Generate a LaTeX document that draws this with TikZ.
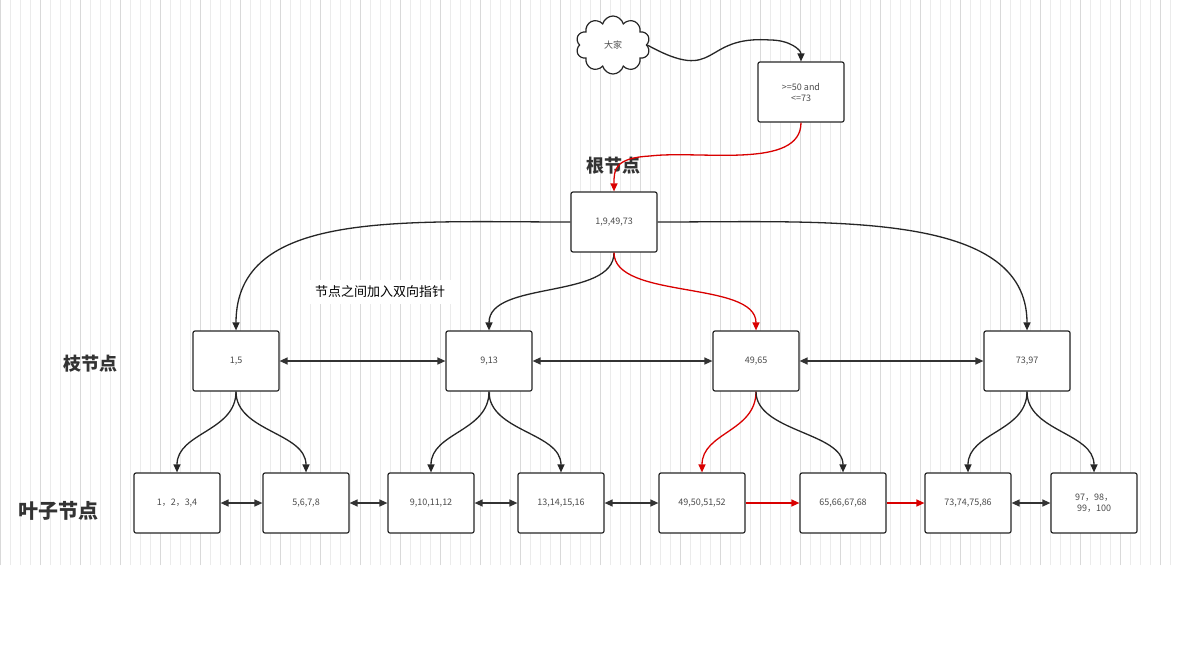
\documentclass[tikz,border=0pt]{standalone}
\usepackage{fontspec}
\setmainfont{Noto Sans CJK SC}
\usetikzlibrary{shapes.symbols,arrows.meta,calc}
\begin{document}
\begin{tikzpicture}[x=1pt,y=-1pt,
 box/.style={draw=black!85,line width=1.2pt,rounded corners=2pt,minimum width=86pt,minimum height=60pt,inner sep=1pt,align=center,font=\fontsize{9}{11}\selectfont,text=black!70},
 arr/.style={line width=1.3pt,draw=black!85,-{Triangle[length=8pt,width=7pt]}},
 red/.style={arr,draw=red!85!black,-{Triangle[length=8pt,width=7pt]},color=red!85!black},
 dbl/.style={line width=1.3pt,draw=black!80,{Triangle[length=8pt,width=7pt]}-{Triangle[length=8pt,width=7pt]}},
 lab/.style={font=\bfseries\fontsize{18}{20}\selectfont,text=black!80}]
\useasboundingbox (0,0) rectangle (1178,648);
\fill[white] (0,0) rectangle (1178,648);
\draw[black!8,line width=0.5pt] (0,0) grid[step=10] (1178,565);
\draw[black!15,line width=0.6pt] (0,0) grid[step=40] (1178,565);
\node[cloud,draw=black!85,line width=1.2pt,fill=white,cloud puffs=10,aspect=1.3,minimum width=74pt,minimum height=58pt,font=\fontsize{9}{11}\selectfont,text=black!70] (c) at (613,45) {大家};
\node[box,fill=white] (q) at (801,92) {>=50 and\\<=73};
\node[box,fill=white] (r) at (614,222) {1,9,49,73};
\node[lab] at (613,166) {根节点};
\node[lab] at (90,364) {枝节点};
\node[lab,font=\bfseries\fontsize{20}{22}\selectfont] at (58,511) {叶子节点};
\node[fill=white,inner sep=6pt,font=\fontsize{13}{15}\selectfont] (t) at (380,292) {节点之间加入双向指针};
\foreach \n/\x/\t in {b1/236/{1,5},b2/489/{9,13},b3/756/{49,65},b4/1027/{73,97}}
  \node[box,fill=white] (\n) at (\x,361) {\t};
\foreach \n/\x/\t in {l1/177/{1，2，3,4},l2/306/{5,6,7,8},l3/431/{9,10,11,12},l4/561/{13,14,15,16},l5/702/{49,50,51,52},l6/843/{65,66,67,68},l7/968/{73,74,75,86},l8/1094/{97，98，\\99，100}}
  \node[box,fill=white] (\n) at (\x,503) {\t};
\draw[arr] (c.east) .. controls (720,85) and (700,35) .. (770,40) .. controls (790,40) and (801,50) .. (q.north);
\draw[red] (q.south) .. controls (801,170) and (700,150) .. (650,156) .. controls (614,158) and (614,170) .. (r.north);
\draw[arr] (r.west) .. controls (400,222) and (236,210) .. (b1.north);
\draw[arr] (r.east) .. controls (830,222) and (1027,210) .. (b4.north);
\draw[arr] (r.south) .. controls (614,300) and (489,280) .. (b2.north);
\draw[red] (r.south) .. controls (614,300) and (756,280) .. (b3.north);
\foreach \b/\a/\c/\s in {b1/l1/l2/arr,b2/l3/l4/arr,b3/l5/l6/red,b4/l7/l8/arr}{
  \draw[\s] (\b.south) .. controls ($(\b.south)+(0,40)$) and ($(\a.north)+(0,-40)$) .. (\a.north);
  \draw[arr] (\b.south) .. controls ($(\b.south)+(0,40)$) and ($(\c.north)+(0,-40)$) .. (\c.north);
}
\draw[dbl] (b1) -- (b2);
\draw[dbl] (b2) -- (b3);
\draw[dbl] (b3) -- (b4);
\draw[dbl] (l1) -- (l2);
\draw[dbl] (l2) -- (l3);
\draw[dbl] (l3) -- (l4);
\draw[dbl] (l4) -- (l5);
\draw[red] (l5) -- (l6);
\draw[red] (l6) -- (l7);
\draw[dbl] (l7) -- (l8);
\end{tikzpicture}
\end{document}
